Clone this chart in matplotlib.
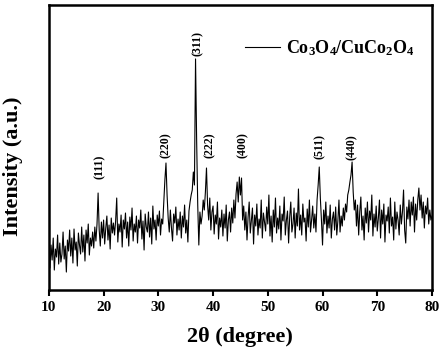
import numpy as np
import matplotlib
matplotlib.use("Agg")
import matplotlib.pyplot as plt

plt.rcParams['font.family'] = ['Liberation Serif', 'DejaVu Serif']
plt.rcParams['font.weight'] = 'bold'
plt.rcParams['mathtext.default'] = 'regular'

# 2theta from 10 to 80 deg, step 0.2
two_theta = np.linspace(10, 80, 351)

# intensity (a.u.)
intensity = [
    38, 22, 45, 30, 52, 20, 41, 33, 55, 26,      # 10
    47, 28, 36, 58, 31, 44, 18, 50, 39, 60,      # 12
    34, 52, 27, 61, 40, 48, 24, 57, 45, 36,      # 14
    63, 38, 55, 29, 60, 47, 66, 35, 52, 44,      # 16
    58, 42, 63, 49, 66, 97, 60, 44, 68, 52,      # 18
    70, 46, 62, 74, 50, 65, 41, 72, 57, 67,      # 20
    55, 69, 92, 48, 66, 58, 75, 43, 70, 61,      # 22
    77, 52, 68, 44, 73, 60, 82, 49, 66, 58,      # 24
    74, 47, 70, 62, 80, 51, 69, 40, 76, 63,      # 26
    58, 78, 53, 72, 46, 84, 61, 70, 50, 75,      # 28
    64, 79, 55, 71, 66, 88, 110, 127, 95, 72,    # 30
    58, 80, 62, 49, 76, 67, 83, 55, 71, 60,      # 32
    78, 52, 74, 63, 85, 57, 70, 48, 79, 88,      # 34
    95, 100, 118, 105, 231, 150, 85, 45, 78, 66, # 36
    74, 90, 80, 98, 122, 85, 70, 92, 60, 78,     # 38
    84, 56, 75, 66, 88, 51, 72, 63, 80, 54,      # 40
    76, 62, 85, 49, 70, 78, 58, 82, 67, 90,      # 42
    72, 96, 108, 88, 113, 95, 112, 70, 84, 60,   # 44
    78, 50, 73, 88, 57, 69, 82, 46, 75, 64,      # 46
    86, 55, 71, 62, 90, 52, 77, 68, 59, 83,      # 48
    66, 95, 54, 74, 48, 80, 63, 92, 57, 72,      # 50
    61, 84, 50, 76, 69, 93, 55, 70, 79, 47,      # 52
    73, 88, 58, 66, 82, 52, 77, 64, 101, 60,     # 54
    75, 55, 86, 68, 72, 49, 81, 63, 90, 58,      # 56
    70, 84, 62, 76, 58, 90, 105, 123, 92, 70,    # 58
    45, 80, 66, 88, 57, 74, 62, 85, 52, 71,      # 60
    78, 60, 83, 55, 69, 90, 58, 74, 64, 82,      # 62
    70, 86, 78, 95, 100, 108, 115, 128, 98, 80,  # 64
    90, 64, 85, 55, 78, 93, 60, 74, 50, 82,      # 66
    67, 88, 58, 79, 70, 95, 54, 76, 63, 84,      # 68
    59, 72, 90, 52, 80, 66, 86, 48, 75, 69,      # 70
    83, 57, 92, 64, 73, 50, 88, 61, 78, 70,      # 72
    55, 85, 66, 78, 100, 60, 47, 83, 71, 90,     # 74
    64, 88, 75, 93, 58, 86, 70, 90, 102, 80,     # 76
    95, 72, 88, 62, 84, 76, 92, 66, 80, 70,      # 78
    74,                                          # 80
]

peak_labels = ['(111)', '(220)', '(311)', '(222)', '(400)', '(511)', '(440)']
peak_x = [19.3, 31.4, 37.2, 39.4, 45.5, 59.5, 65.4]
peak_y = [123, 145, 246, 145, 145, 143, 143]

fig = plt.figure(figsize=(4.44, 3.52), dpi=100)
ax = fig.add_axes([0.110, 0.176, 0.863, 0.810])

ax.plot(two_theta, intensity, color='black', lw=0.8,
        label=r'Co$_3$O$_4$/CuCo$_2$O$_4$')

for lab, px, py in zip(peak_labels, peak_x, peak_y):
    ax.text(px, py, lab, rotation=90, ha='center', va='center',
            fontsize=8.5, fontweight='bold')

ax.set_xlim(10, 80)
ax.set_ylim(0, 285)
ax.set_xticks(range(10, 81, 10))
ax.set_yticks([])
ax.tick_params(axis='x', direction='out', length=4, width=1.5,
               labelsize=11, pad=4)
for lbl in ax.get_xticklabels():
    lbl.set_fontweight('bold')
for sp in ax.spines.values():
    sp.set_linewidth(1.8)

ax.set_xlabel('2θ (degree)', fontsize=16, fontweight='bold', labelpad=9)
ax.set_ylabel('Intensity (a.u.)', fontsize=16, fontweight='bold')
ax.yaxis.set_label_coords(-0.068, 0.435)

ax.legend(loc='upper right', frameon=False, fontsize=13,
          handlelength=1.9, handletextpad=0.35,
          bbox_to_anchor=(0.998, 0.94))

plt.savefig("out.png", dpi=100)
